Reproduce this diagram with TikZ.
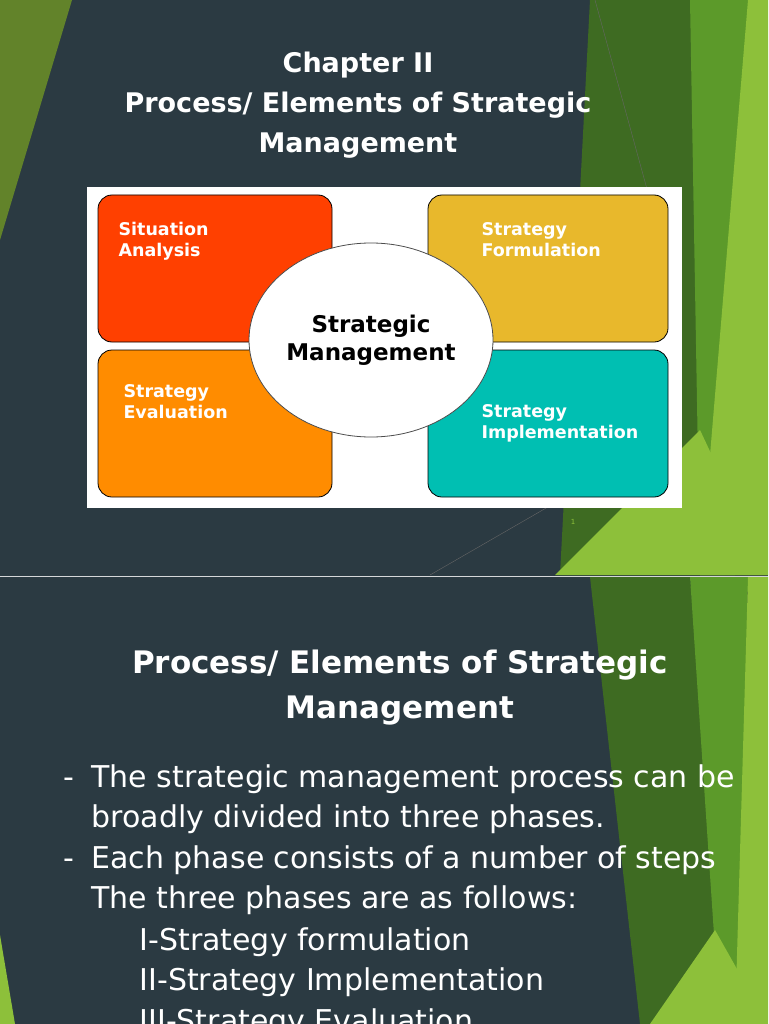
\documentclass[tikz,border=0pt]{standalone}
\usepackage{fontspec}
\setmainfont{DejaVu Sans}
\usetikzlibrary{shapes.geometric}
\definecolor{bg}{HTML}{2B3A42}
\definecolor{g1}{HTML}{3E6B22}
\definecolor{g2}{HTML}{5C9A2A}
\definecolor{g3}{HTML}{8DC03A}
\definecolor{g4}{HTML}{62832A}
\definecolor{cred}{HTML}{FF4000}
\definecolor{cyel}{HTML}{E8B82C}
\definecolor{corg}{HTML}{FF8C00}
\definecolor{ctea}{HTML}{00BFB2}
\tikzset{x=1pt,y=-1pt,
 quad/.style={draw=black,line width=0.8pt,rounded corners=14pt},
 qlab/.style={text=white,font=\fontsize{17.5}{21}\selectfont\bfseries,align=left,anchor=north west},
 ttl/.style={text=white,font=\fontsize{27}{40}\selectfont\bfseries,align=center},
 body/.style={text=white,font=\fontsize{30}{34}\selectfont,anchor=base west}}
\begin{document}
\begin{tikzpicture}
\useasboundingbox (0,0) rectangle (768,1024);
\fill[bg] (0,0) rectangle (768,1024);
% slide 1 decorations
\fill[g4] (0,0) -- (72,0) -- (0,240) -- cycle;
\fill[g1] (590,0) -- (690,0) -- (725,575) -- (560,575) -- cycle;
\fill[g2] (690,0) -- (748,0) -- (735,575) -- (700,575) -- cycle;
\fill[g3] (748,0) -- (768,0) -- (768,575) -- (700,575) -- cycle;
\fill[g3] (555,575) -- (700,430) -- (768,575) -- cycle;
\draw[black!60,line width=0.4pt] (595,0) -- (650,200);
\draw[black!60,line width=0.4pt] (430,575) -- (560,500);
% slide 2 decorations
\fill[g1] (590,577) -- (690,577) -- (725,1024) -- (640,1024) -- cycle;
\fill[g2] (690,577) -- (748,577) -- (740,1024) -- (720,1024) -- cycle;
\fill[g3] (748,577) -- (768,577) -- (768,1024) -- (735,1024) -- cycle;
\fill[g3] (650,1024) -- (715,930) -- (768,1024) -- cycle;
\fill[g3] (0,935) -- (15,1024) -- (0,1024) -- cycle;
\draw[white!80!bg,line width=1pt] (0,576) -- (768,576);
% slide 1 title
\node[ttl] (t1) at (358,105) {Chapter II\\Process/ Elements of Strategic\\Management};
% figure
\fill[white] (87,187) rectangle (682,508);
\draw[quad,fill=cred] (98,195) rectangle (332,342);
\draw[quad,fill=cyel] (428,195) rectangle (668,342);
\draw[quad,fill=corg] (98,350) rectangle (332,497);
\draw[quad,fill=ctea] (428,350) rectangle (668,497);
\node[qlab] (sa) at (115,219) {Situation\\Analysis};
\node[qlab] (sf) at (478,219) {Strategy\\Formulation};
\node[qlab] (se) at (120,381) {Strategy\\Evaluation};
\node[qlab] (si) at (478,401) {Strategy\\Implementation};
\node[ellipse,draw=black!70,line width=0.8pt,fill=white,minimum width=244pt,minimum height=194pt,inner sep=0pt,
 font=\fontsize{23}{28}\selectfont\bfseries,align=center] (sm) at (371,340) {};
\node[font=\fontsize{23}{28}\selectfont\bfseries,align=center] (smt) at (sm.center) {Strategic\\Management};
\node[text=g3,font=\fontsize{7}{8}\selectfont] (pn) at (573,522) {1};
% slide 2
\node[ttl,font=\fontsize{31}{45}\selectfont\bfseries] (t2) at (400,688) {Process/ Elements of Strategic\\Management};
\node[body] (d1) at (60,787) {-};
\node[body] (l1) at (88,787) {The strategic management process can be};
\node[body] (l2) at (88,827) {broadly divided into three phases.};
\node[body] (d2) at (60,868) {-};
\node[body] (l3) at (88,868) {Each phase consists of a number of steps};
\node[body] (l4) at (88,908) {The three phases are as follows:};
\node[body] (l5) at (136,950) {I-Strategy formulation};
\node[body] (l6) at (136,990) {II-Strategy Implementation};
\node[body] (l7) at (136,1031) {III-Strategy Evaluation};
\end{tikzpicture}
\end{document}
